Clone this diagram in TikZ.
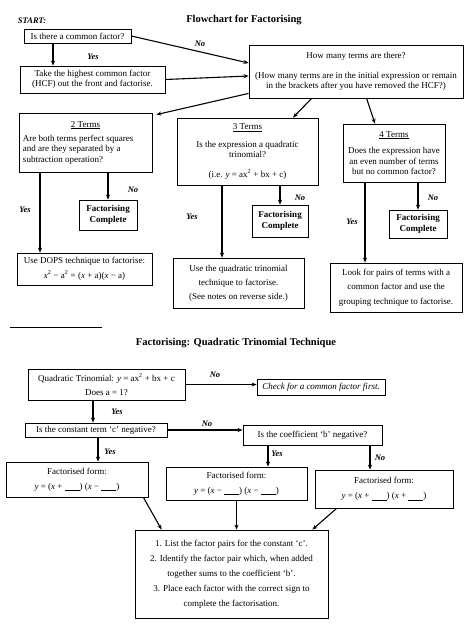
\documentclass[tikz,border=0pt]{standalone}
\usepackage{fontspec}
\setmainfont{Liberation Serif}
\usetikzlibrary{arrows.meta}
\newcommand{\blank}{\underline{\hspace{15pt}}}

\begin{document}
\begin{tikzpicture}[x = 1pt, y = -1pt,
        box/.style = {draw, line width = 0.8pt, align = center, inner sep = 1pt, font = \fontsize{9}{10.5}\selectfont},
        done/.style = {box, font = \fontsize{9}{11}\selectfont\bfseries},
        arr/.style = {line width = 1.1pt, -{Stealth[length = 5pt, width = 4pt]}},
        lbl/.style = {font = \fontsize{8.5}{10}\selectfont\bfseries\itshape},
        title/.style = {font = \fontsize{10.5}{12}\selectfont\bfseries}]
    \useasboundingbox[fill = white] (0,0) rectangle (474,632);
    \node[title] (head) at (244,20) {Flowchart for Factorising};
    \node[lbl] (start) at (32,21) {START:};
    \node[box, minimum width = 107pt, minimum height = 14pt] (common) at (77.5,36) {Is there a common factor?};
    \node[box, minimum width = 145pt, minimum height = 27pt] (hcf) at (92.5,79.5) {Take the highest common factor\\(HCF) out the front and factorise.};
    \node[box, minimum width = 214pt, minimum height = 53pt] (terms) at (356,71.5) {How many terms are there?\\[9pt](How many terms are in the initial expression or remain\\in the brackets after you have removed the HCF?)};
    \node[box, minimum width = 133pt, minimum height = 59pt, align = left] (two) at (85.5,142.5) {\makebox[125pt]{\underline{2 Terms}}\\[3.5pt]Are both terms perfect squares\\and are they separated by a\\subtraction operation?};
    \node[box, minimum width = 141pt, minimum height = 67pt] (three) at (247.5,151.5) {\underline{3 Terms}\\[7pt]Is the expression a quadratic\\trinomial?\\[9pt](i.e. \textit{y} = ax\textsuperscript{2} + bx + c)};
    \node[box, minimum width = 102pt, minimum height = 58pt] (four) at (394,153) {\underline{4 Terms}\\[6pt]Does the expression have\\an even number of terms\\but no common factor?};
    \node[done, minimum width = 58pt, minimum height = 30pt] (fctwo) at (108,215) {Factorising\\Complete};
    \node[done, minimum width = 56pt, minimum height = 32pt] (fcthree) at (280,221) {Factorising\\Complete};
    \node[done, minimum width = 58pt, minimum height = 28pt] (fcfour) at (418,224) {Factorising\\Complete};
    \node[box, minimum width = 135pt, minimum height = 32pt] (dops) at (84.5,269) {Use DOPS technique to factorise:\\[4pt]\textit{x}\textsuperscript{2} − a\textsuperscript{2} = (\textit{x} + a)(\textit{x} − a)};
    \node[box, minimum width = 131pt, minimum height = 50pt, font = \fontsize{9}{14}\selectfont] (quad) at (238.5,283) {Use the quadratic trinomial\\technique to factorise.\\(See notes on reverse side.)};
    \node[box, minimum width = 132pt, minimum height = 49pt, font = \fontsize{9}{14.5}\selectfont] (group) at (396,287.5) {Look for pairs of terms with a\\common factor and use the\\grouping technique to factorise.};

    \draw[arr] ([xshift = -24.5pt]common.south) -- ([xshift = -24.5pt]common.south |- hcf.north);
    \draw[arr] (common.east) -- ([yshift = 8.5pt]terms.west);
    \draw[arr] (hcf.east) -- ([yshift = -4.5pt]terms.west);
    \draw[arr] ([yshift = 5pt]terms.south west) -- ([xshift = 4pt, yshift = -2pt]two.north east);
    \draw[arr] ([xshift = 63pt]terms.south west) -- ([xshift = 45.5pt]three.north);
    \draw[arr] ([xshift = 118pt]terms.south west) -- ([xshift = -19pt]four.north);
    \foreach \from/\to/\dx in {two/dops/-44.5, three/quad/-16.5, four/group/-31}
        \draw[arr] ([xshift = \dx pt]\to.north |- \from.south) -- ([xshift = \dx pt]\to.north);
    \foreach \from/\to in {two/fctwo, three/fcthree, four/fcfour}
        \draw[arr] (\to.north |- \from.south) -- (\to.north);

    \draw[line width = 0.7pt] (10,327) -- (102,327);

    \node[title] (head2) at (236,343) {Factorising: Quadratic Trinomial Technique};
    \node[box, minimum width = 157pt, minimum height = 31pt] (q1) at (106.5,384.5) {Quadratic Trinomial: \textit{y} = ax\textsuperscript{2} + bx + c\\[3.5pt]Does a = 1?};
    \node[box, minimum width = 128pt, minimum height = 16pt, font = \fontsize{9}{10.5}\selectfont\itshape] (check) at (321,387) {Check for a common factor first.};
    \node[box, minimum width = 142pt, minimum height = 14pt] (q2) at (96,430) {Is the constant term ‘c’ negative?};
    \node[box, minimum width = 139pt, minimum height = 20pt] (q3) at (312.5,435) {Is the coefficient ‘b’ negative?};
    \node[box, minimum width = 142pt, minimum height = 35pt] (f1) at (77,479.5) {Factorised form:\\[4.5pt]\textit{y} = (\textit{x} + \blank) (\textit{x} − \blank)};
    \node[box, minimum width = 141pt, minimum height = 33pt] (f2) at (236.5,483.5) {Factorised form:\\[4.5pt]\textit{y} = (\textit{x} − \blank) (\textit{x} − \blank)};
    \node[box, minimum width = 138pt, minimum height = 38pt] (f3) at (384,489) {Factorised form:\\[4.5pt]\textit{y} = (\textit{x} + \blank) (\textit{x} + \blank)};
    \node[box, minimum width = 193pt, minimum height = 88pt, font = \fontsize{9}{15}\selectfont] (steps) at (231.5,574) {1. List the factor pairs for the constant ‘c’.\\2. Identify the factor pair which, when added\\together sums to the coefficient ‘b’.\\3. Place each factor with the correct sign to\\complete the factorisation.};

    \draw[arr] (q1.east) -- (q1.east -| check.west);
    \draw[arr] ([xshift = -3pt]q2.north |- q1.south) -- ([xshift = -3pt]q2.north);
    \draw[arr] (q2.east) -- (q2.east -| q3.west);
    \draw[arr] ([xshift = 21pt]f1.north |- q2.south) -- ([xshift = 21pt]f1.north);
    \draw[arr] ([xshift = 31.5pt]f2.north |- q3.south) -- ([xshift = 31.5pt]f2.north);
    \draw[arr] ([xshift = -14pt]f3.north |- q3.south) -- ([xshift = -14pt]f3.north);
    \draw[arr] ([xshift = -5pt]f1.south east) -- ([xshift = 27pt]steps.north west);
    \draw[arr] (f2.south) -- (f2.south |- steps.north);
    \draw[arr] ([xshift = 22pt]f3.south west) -- ([xshift = -16pt]steps.north east);

    \foreach \x/\y/\word [count = \i] in {93/57/Yes, 200/44/No, 25/210/Yes, 133/190/No, 192/217/Yes, 300/198/No, 352/222/Yes, 433/198/No, 215/375/No, 117/412/Yes, 207/424/No, 110/452/Yes, 277/454/Yes, 380/458/No}
        \node[lbl] (answer\i) at (\x,\y) {\word};
\end{tikzpicture}
\end{document}
